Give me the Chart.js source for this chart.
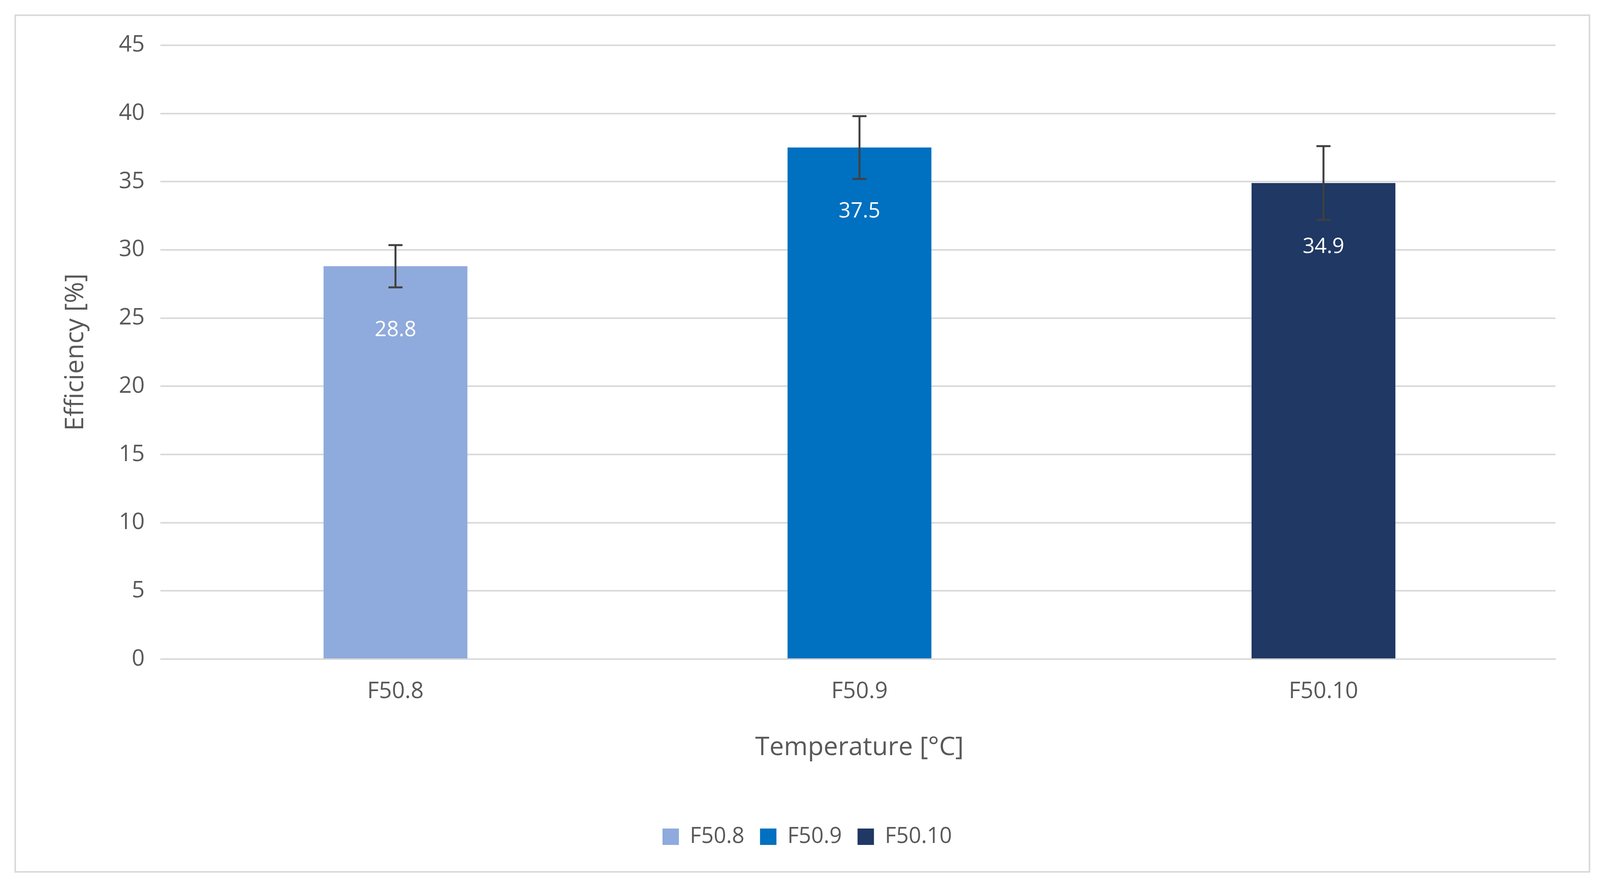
<!DOCTYPE html>
<html>
<head>
<meta charset="utf-8">
<script src="https://cdn.jsdelivr.net/npm/chart.js@4/dist/chart.umd.min.js"></script>
<style>
  body { margin: 0; background: #fff; }
  #wrap { position: absolute; left: 37px; top: 37px; width: 4026px; height: 2190px; border: 4px solid #d9d9d9; }
  canvas { display: block; }
</style>
</head>
<body>
<div id="wrap"><canvas id="myChart"></canvas></div>
<script>
var categories = ["F50.8", "F50.9", "F50.10"];
var seriesNames = ["F50.8", "F50.9", "F50.10"];
var values = [28.8, 37.5, 34.9];
var errors = [1.55, 2.3, 2.7];
var colors = ["#8FAADC", "#0070C0", "#1F3864"];

var textColor = "#595959";
var font = "'Open Sans', sans-serif";

// one dataset per series, null elsewhere, so each bar gets its own legend entry
var datasets = seriesNames.map(function(name, i) {
  return {
    label: name,
    data: categories.map(function(c, j) { return j === i ? values[i] : null; }),
    backgroundColor: colors[i],
    errors: categories.map(function(c, j) { return j === i ? errors[i] : null; }),
    skipNull: true,
    categoryPercentage: 0.31,
    barPercentage: 1
  };
});

var barExtras = {
  id: "barExtras",
  afterDatasetsDraw: function(chart) {
    var ctx = chart.ctx;
    var y = chart.scales.y;
    chart.data.datasets.forEach(function(ds, i) {
      chart.getDatasetMeta(i).data.forEach(function(bar, j) {
        if (ds.data[j] == null) return;
        var v = ds.data[j], e = ds.errors[j];
        // value label
        ctx.save();
        ctx.fillStyle = "#fff";
        ctx.font = "54px " + font;
        ctx.textAlign = "center";
        ctx.textBaseline = "middle";
        ctx.fillText(v.toFixed(1), bar.x, bar.y + 164);
        // error bar
        var top = y.getPixelForValue(v + e), bot = y.getPixelForValue(v - e);
        ctx.strokeStyle = "#404040";
        ctx.lineWidth = 5;
        ctx.beginPath();
        ctx.moveTo(bar.x, top); ctx.lineTo(bar.x, bot);
        ctx.moveTo(bar.x - 18, top); ctx.lineTo(bar.x + 18, top);
        ctx.moveTo(bar.x - 18, bot); ctx.lineTo(bar.x + 18, bot);
        ctx.stroke();
        ctx.restore();
      });
    });
  }
};

new Chart(document.getElementById("myChart"), {
  type: "bar",
  data: { labels: categories, datasets: datasets },
  plugins: [barExtras],
  options: {
    responsive: true,
    maintainAspectRatio: false,
    animation: false,
    layout: { padding: { left: 110, right: 85, top: 70, bottom: 50 } },
    plugins: {
      tooltip: { enabled: false },
      legend: {
        position: "bottom",
        labels: {
          color: textColor,
          font: { family: font, size: 56 },
          boxWidth: 42, boxHeight: 42, padding: 40
        }
      }
    },
    scales: {
      x: {
        grid: { display: false },
        border: { color: "#d9d9d9", width: 4 },
        ticks: { color: textColor, font: { family: font, size: 58 }, padding: 40 },
        title: { display: true, text: "Temperature [°C]", color: textColor, font: { family: font, size: 66 }, padding: { top: 30, bottom: 120 } }
      },
      y: {
        min: 0, max: 45,
        grid: { color: "#d9d9d9", lineWidth: 4 },
        border: { display: false },
        ticks: { stepSize: 5, color: textColor, font: { family: font, size: 58 }, padding: 40 },
        title: { display: true, text: "Efficiency [%]", color: textColor, font: { family: font, size: 66 }, padding: { bottom: 30 } }
      }
    }
  }
});
</script>
</body>
</html>
